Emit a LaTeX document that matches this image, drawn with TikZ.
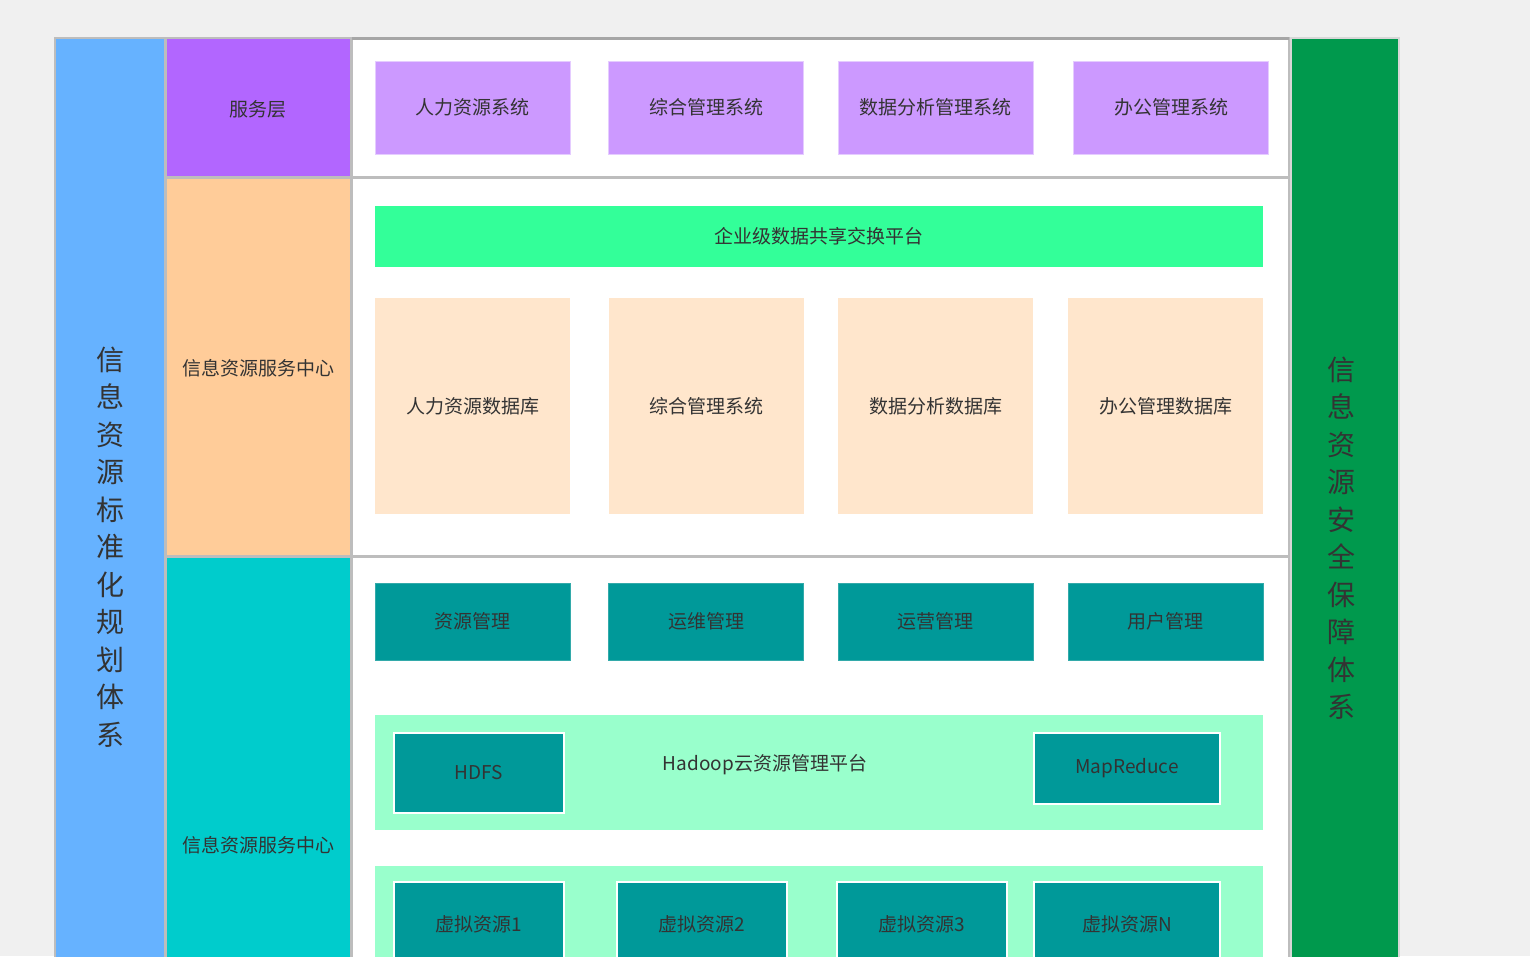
\documentclass[tikz,border=0pt]{standalone}
\usepackage{fontspec}
\setmainfont{Noto Sans CJK SC}
\definecolor{bgc}{HTML}{F0F0F0}
\definecolor{txt}{HTML}{333333}
\definecolor{gridc}{HTML}{BDBDBD}
\definecolor{gridd}{HTML}{A6A6A6}
\definecolor{bluec}{HTML}{66B2FF}
\definecolor{greenc}{HTML}{00994D}
\definecolor{purpc}{HTML}{B266FF}
\definecolor{purpl}{HTML}{CC99FF}
\definecolor{purpb}{HTML}{E5CCFF}
\definecolor{peachc}{HTML}{FFCC99}
\definecolor{peachl}{HTML}{FFE6CC}
\definecolor{cyanc}{HTML}{00CCCC}
\definecolor{tealc}{HTML}{009999}
\definecolor{teall}{HTML}{33AAAA}
\definecolor{mintc}{HTML}{33FF99}
\definecolor{mintl}{HTML}{99FFCC}
\begin{document}
\begin{tikzpicture}[x=1pt,y=-1pt,
  every node/.style={inner sep=0pt, outer sep=0pt, text=txt, font=\fontsize{19}{22}\selectfont},
  colbox/.style={draw=gridc, line width=2pt},
  panel/.style={fill=white, draw=gridc, line width=2pt},
  sysbox/.style={fill=purpl, draw=purpb, line width=1pt, minimum width=195pt, minimum height=93pt},
  dbbox/.style={fill=peachl, minimum width=195pt, minimum height=216pt},
  mgbox/.style={fill=tealc, draw=teall, line width=1pt, minimum width=195pt, minimum height=77pt},
  hbox/.style={fill=tealc, draw=white, line width=2.5pt},
  vtext/.style={align=center, font=\fontsize{28}{37.5}\selectfont}
]
\useasboundingbox (0,0) rectangle (1530,956);
\clip (0,0) rectangle (1530,956);
\fill[bgc] (0,0) rectangle (1530,956);

% side columns
\node[colbox, fill=bluec, minimum width=110pt, minimum height=950pt, anchor=north west] (blue) at (55,38) {};
\node[draw=gridc!60, line width=2pt, fill=greenc, minimum width=108pt, minimum height=950pt, anchor=north west] (green) at (1291,38) {};
\node[vtext] (bluet) at (110,547) {信\\息\\资\\源\\标\\准\\化\\规\\划\\体\\系};
\node[vtext] (greent) at (1341,538) {信\\息\\资\\源\\安\\全\\保\\障\\体\\系};

% layer labels
\node[colbox, fill=purpc, minimum width=185pt, minimum height=139pt, anchor=north west] (lay1) at (166,38) {};
\node[colbox, fill=peachc, minimum width=185pt, minimum height=378pt, anchor=north west] (lay2) at (166,178) {};
\node[colbox, fill=cyanc, minimum width=185pt, minimum height=430pt, anchor=north west] (lay3) at (166,557) {};
\node (lay1t) at (258,109) {服务层};
\node (lay2t) at (258,368) {信息资源服务中心};
\node (lay3t) at (258,845) {信息资源服务中心};

% white panels
\node[panel, minimum width=937pt, minimum height=139pt, anchor=north west] (pan1) at (352,38) {};
\node[panel, minimum width=937pt, minimum height=378pt, anchor=north west] (pan2) at (352,178) {};
\node[panel, minimum width=937pt, minimum height=430pt, anchor=north west] (pan3) at (352,557) {};
\draw[gridd, line width=3pt] (pan1.north west) -- (pan1.north east);

% row 1
\node[sysbox] (s1) at (472.5,107.5) {人力资源系统};
\node[sysbox] (s2) at (706,107.5) {综合管理系统};
\node[sysbox] (s3) at (935.5,107.5) {数据分析管理系统};
\node[sysbox] (s4) at (1171,107.5) {办公管理系统};

% exchange platform
\node[fill=mintc, minimum width=888pt, minimum height=61pt] (xch) at (819,236.5) {企业级数据共享交换平台};

% row 2
\node[dbbox] (d1) at (472.5,406) {人力资源数据库};
\node[dbbox] (d2) at (706,406) {综合管理系统};
\node[dbbox] (d3) at (935.5,406) {数据分析数据库};
\node[dbbox] (d4) at (1165.5,406) {办公管理数据库};

% row 3
\node[mgbox] (m1) at (472.5,621.5) {资源管理};
\node[mgbox] (m2) at (706,621.5) {运维管理};
\node[mgbox] (m3) at (935.5,621.5) {运营管理};
\node[mgbox] (m4) at (1165.5,621.5) {用户管理};

% hadoop platform
\node[fill=mintl, minimum width=888pt, minimum height=115pt] (hp) at (819,772.5) {};
\node (hpt) at (765,765) {Hadoop云资源管理平台};
\node[hbox, minimum width=170pt, minimum height=80pt] (hdfs) at (479,773) {HDFS};
\node[hbox, minimum width=186pt, minimum height=71pt] (mr) at (1127,768.5) {MapReduce};

% virtual resources
\node[fill=mintl, minimum width=888pt, minimum height=120pt, anchor=north] (vp) at (819,866) {};
\node[hbox, minimum width=170pt, minimum height=84pt] (v1) at (479,924) {虚拟资源1};
\node[hbox, minimum width=170pt, minimum height=84pt] (v2) at (702,924) {虚拟资源2};
\node[hbox, minimum width=170pt, minimum height=84pt] (v3) at (922,924) {虚拟资源3};
\node[hbox, minimum width=186pt, minimum height=84pt] (v4) at (1127,924) {虚拟资源N};
\end{tikzpicture}
\end{document}
